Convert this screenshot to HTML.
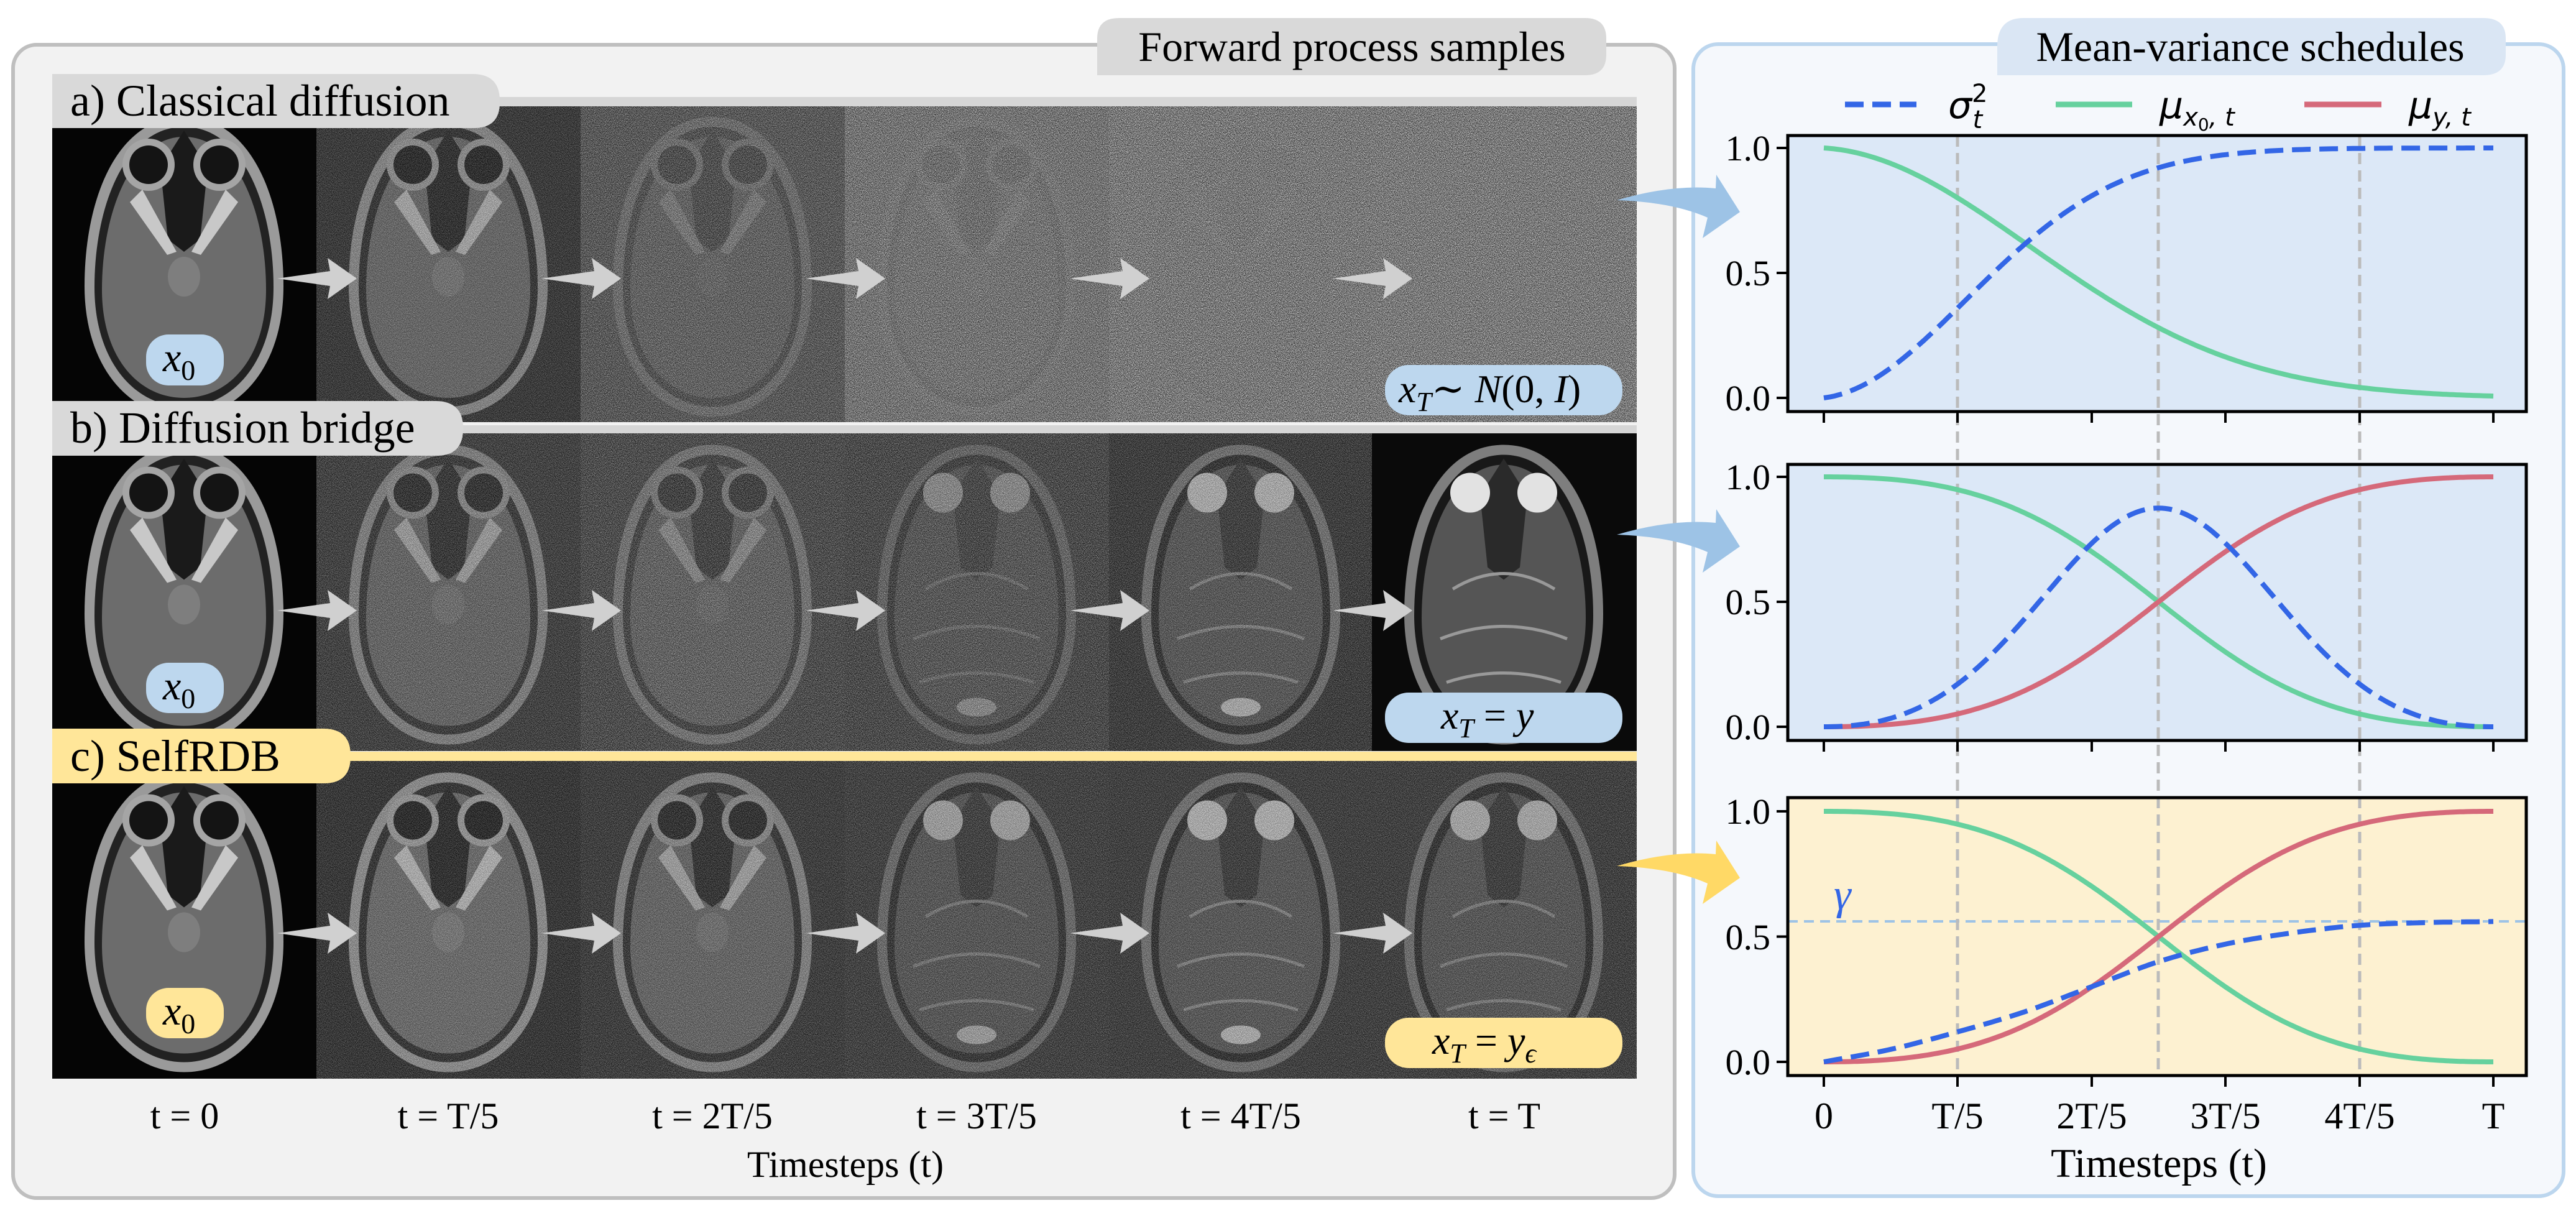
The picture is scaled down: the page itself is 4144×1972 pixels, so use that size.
<!DOCTYPE html>
<html><head><meta charset="utf-8">
<style>
html,body{margin:0;padding:0;background:#fff;}
svg{display:block;}
.mt{font-family:"DejaVu Sans","Liberation Sans",sans-serif;font-style:italic;}
</style></head>
<body>
<svg id="s" width="4144" height="1972" viewBox="0 0 4144 1972" xmlns="http://www.w3.org/2000/svg">
<defs>
  <filter id="nz2" x="0" y="0" width="100%" height="100%" color-interpolation-filters="sRGB">
    <feTurbulence type="fractalNoise" baseFrequency="0.9" numOctaves="2" seed="7" result="t"/>
    <feColorMatrix in="t" type="matrix" values="1 0 0 0 0  1 0 0 0 0  1 0 0 0 0  0 0 0 0 1" result="g"/>
    <feComponentTransfer in="g">
      <feFuncR type="linear" slope="4" intercept="-1.5"/>
      <feFuncG type="linear" slope="4" intercept="-1.5"/>
      <feFuncB type="linear" slope="4" intercept="-1.5"/>
    </feComponentTransfer>
  </filter>
  <symbol id="t1" viewBox="0 0 425 510">
    <path d="M212 18 C320 18 372 150 372 290 C372 420 300 500 212 500 C124 500 52 420 52 290 C52 150 104 18 212 18 Z" fill="#9a9a9a"/>
    <path d="M212 34 C306 34 356 160 356 292 C356 410 292 484 212 484 C132 484 68 410 68 292 C68 160 118 34 212 34 Z" fill="#222"/>
    <path d="M212 50 C296 50 344 170 344 296 C344 404 286 470 212 470 C138 470 80 404 80 296 C80 170 128 50 212 50 Z" fill="#6c6c6c"/>
    <path d="M212 40 L250 100 L238 215 L212 235 L186 215 L174 100 Z" fill="#1a1a1a"/>
    <circle cx="155" cy="95" r="42" fill="#a5a5a5"/>
    <circle cx="155" cy="95" r="31" fill="#141414"/>
    <circle cx="269" cy="95" r="42" fill="#a5a5a5"/>
    <circle cx="269" cy="95" r="31" fill="#141414"/>
    <path d="M145 135 L200 235 L185 240 L125 155 Z M279 135 L224 235 L239 240 L299 155 Z" fill="#c8c8c8"/>
    <ellipse cx="212" cy="275" rx="26" ry="32" fill="#7e7e7e"/>
  </symbol>
  <symbol id="t2" viewBox="0 0 425 510">
    <path d="M212 18 C320 18 372 150 372 290 C372 420 300 500 212 500 C124 500 52 420 52 290 C52 150 104 18 212 18 Z" fill="#7e7e7e"/>
    <path d="M212 34 C306 34 356 160 356 292 C356 410 292 484 212 484 C132 484 68 410 68 292 C68 160 118 34 212 34 Z" fill="#181818"/>
    <path d="M212 50 C296 50 344 170 344 296 C344 404 286 470 212 470 C138 470 80 404 80 296 C80 170 128 50 212 50 Z" fill="#555"/>
    <path d="M212 40 L250 100 L238 215 L212 235 L186 215 L174 100 Z" fill="#2a2a2a"/>
    <circle cx="158" cy="95" r="32" fill="#e2e2e2"/>
    <circle cx="266" cy="95" r="32" fill="#e2e2e2"/>
    <ellipse cx="212" cy="440" rx="32" ry="15" fill="#ddd"/>
    <path d="M130 250 Q212 200 294 250 M110 330 Q212 290 314 330 M120 400 Q212 370 304 400" stroke="#999" stroke-width="5" fill="none"/>
  </symbol>
</defs>

<rect x="21" y="72" width="2673" height="1855" rx="38" fill="#f2f2f2" stroke="#bfbfbf" stroke-width="6"/>
<path d="M1765 121 L2550 121 Q2584 121 2584 88 L2584 62 Q2584 29 2550 29 L1800 29 Q1765 29 1765 62 Z" fill="#d9d9d9"/>
<text x="2175" y="98" font-family="Liberation Serif, DejaVu Serif, serif" font-size="68" text-anchor="middle" fill="#000">Forward process samples</text>

<g id="imgs"></g>

<rect x="760" y="156" width="1873" height="15" fill="#d6d6d6"/>
<path d="M84 119 L760 119 Q804 119 804 162 L804 165 Q804 206 762 206 L84 206 Z" fill="#d9d9d9"/>
<text x="113" y="186" font-family="Liberation Serif, DejaVu Serif, serif" font-size="72">a) Classical diffusion</text>
<rect x="700" y="684" width="1933" height="13" fill="#d6d6d6"/>
<path d="M84 645 L700 645 Q745 645 745 688 L745 690 Q745 733 702 733 L84 733 Z" fill="#d9d9d9"/>
<text x="113" y="712" font-family="Liberation Serif, DejaVu Serif, serif" font-size="72">b) Diffusion bridge</text>
<rect x="520" y="1209" width="2113" height="15" fill="#ffe699"/>
<path d="M84 1172 L520 1172 Q564 1172 564 1215 L564 1217 Q564 1260 521 1260 L84 1260 Z" fill="#ffe699"/>
<text x="113" y="1240" font-family="Liberation Serif, DejaVu Serif, serif" font-size="72">c) SelfRDB</text>

<g font-family="Liberation Serif, DejaVu Serif, serif">
<rect x="235" y="538" width="125" height="82" rx="36" fill="#bdd7ee"/>
<text x="262" y="597" font-style="italic" font-size="66">x<tspan font-style="normal" font-size="46" dy="14">0</tspan></text>
<rect x="235" y="1066" width="125" height="81" rx="36" fill="#bdd7ee"/>
<text x="262" y="1125" font-style="italic" font-size="66">x<tspan font-style="normal" font-size="46" dy="14">0</tspan></text>
<rect x="235" y="1589" width="125" height="81" rx="36" fill="#ffe699"/>
<text x="262" y="1648" font-style="italic" font-size="66">x<tspan font-style="normal" font-size="46" dy="14">0</tspan></text>

<rect x="2228" y="587" width="382" height="81" rx="38" fill="#bdd7ee"/>
<text x="2250" y="647" font-style="italic" font-size="64">x<tspan font-size="44" dy="14">T</tspan><tspan font-style="normal" dy="-14">∼ </tspan>N<tspan font-style="normal">(0, </tspan>I<tspan font-style="normal">)</tspan></text>
<rect x="2228" y="1114" width="382" height="81" rx="38" fill="#bdd7ee"/>
<text x="2318" y="1172" font-style="italic" font-size="64">x<tspan font-size="44" dy="14">T</tspan><tspan font-style="normal" dy="-14"> = </tspan>y</text>
<rect x="2228" y="1637" width="382" height="81" rx="38" fill="#ffe699"/>
<text x="2304" y="1695" font-style="italic" font-size="64">x<tspan font-size="44" dy="14">T</tspan><tspan font-style="normal" dy="-14"> = </tspan>y<tspan font-size="44" dy="14">ϵ</tspan></text>
</g>

<g font-family="Liberation Serif, DejaVu Serif, serif" font-size="60" text-anchor="middle">
<text x="297" y="1815">t = 0</text>
<text x="721" y="1815">t = T/5</text>
<text x="1146" y="1815">t = 2T/5</text>
<text x="1571" y="1815">t = 3T/5</text>
<text x="1996" y="1815">t = 4T/5</text>
<text x="2420" y="1815">t = T</text>
<text x="1360" y="1893">Timesteps (t)</text>
</g>

<rect x="2724" y="71" width="1400" height="1853" rx="40" fill="#f5f8fc" stroke="#bcd6ee" stroke-width="6"/>
<path d="M3213 121 L3995 121 Q4031 121 4031 88 L4031 62 Q4031 29 3995 29 L3255 29 Q3213 29 3213 75 Z" fill="#dae6f4"/>
<text x="3620" y="98" font-family="Liberation Serif, DejaVu Serif, serif" font-size="68" text-anchor="middle">Mean-variance schedules</text>

<line x1="2968" y1="168" x2="3083" y2="168" stroke="#3366e6" stroke-width="9" stroke-dasharray="30 14"/>
<text x="3134" y="190" class="mt" font-size="60">σ<tspan font-size="40" dy="-26" font-style="normal">2</tspan><tspan font-size="40" dx="-24" dy="42">t</tspan></text>
<line x1="3307" y1="168" x2="3430" y2="168" stroke="#66d19e" stroke-width="9"/>
<text x="3474" y="190" class="mt" font-size="60">μ<tspan font-size="40" dy="12">x<tspan font-size="28" font-style="normal" dy="8">0</tspan><tspan dy="-8">, t</tspan></tspan></text>
<line x1="3707" y1="168" x2="3831" y2="168" stroke="#d5697a" stroke-width="9"/>
<text x="3875" y="190" class="mt" font-size="60">μ<tspan font-size="40" dy="12">y, t</tspan></text>

<rect x="2876" y="218" width="1188" height="444" fill="#dce8f7"/>
<rect x="2876" y="747" width="1188" height="444" fill="#dce8f7"/>
<rect x="2876" y="1283" width="1188" height="447" fill="#fdf1d1"/>

<line x1="2876" y1="1482" x2="4064" y2="1482" stroke="#9dc3e6" stroke-width="4" stroke-dasharray="16 10"/>
<text x="2950" y="1462" font-family="Liberation Serif, DejaVu Serif, serif" font-style="italic" font-size="70" fill="#3366e6">γ</text>

<g id="vl"></g>
<g id="curves"></g>

<rect x="2876" y="218" width="1188" height="444" fill="none" stroke="#000" stroke-width="5"/>
<rect x="2876" y="747" width="1188" height="444" fill="none" stroke="#000" stroke-width="5"/>
<rect x="2876" y="1283" width="1188" height="447" fill="none" stroke="#000" stroke-width="5"/>
<g id="ticks" stroke="#000" stroke-width="4"></g>

<g font-family="Liberation Serif, DejaVu Serif, serif" font-size="58" text-anchor="end">
<text x="2848" y="258">1.0</text><text x="2848" y="459">0.5</text><text x="2848" y="660">0.0</text>
<text x="2848" y="787">1.0</text><text x="2848" y="988">0.5</text><text x="2848" y="1189">0.0</text>
<text x="2848" y="1325">1.0</text><text x="2848" y="1527">0.5</text><text x="2848" y="1728">0.0</text>
</g>
<g font-family="Liberation Serif, DejaVu Serif, serif" font-size="60" text-anchor="middle">
<text x="2934" y="1815">0</text>
<text x="3149" y="1815">T/5</text>
<text x="3365" y="1815">2T/5</text>
<text x="3580" y="1815">3T/5</text>
<text x="3796" y="1815">4T/5</text>
<text x="4011" y="1815">T</text>
<text x="3473" y="1893" font-size="66">Timesteps (t)</text>
</g>

<g id="carrows"></g>
</svg>
<script>
(function(){
var NS="http://www.w3.org/2000/svg";
function el(tag,attrs,parent){var e=document.createElementNS(NS,tag);for(var k in attrs)e.setAttribute(k,attrs[k]);parent.appendChild(e);return e;}
var imgs=document.getElementById('imgs');
var xs=[84,509,934,1359,1784,2207,2633];
var rows=[[171,679],[697,1208],[1224,1735]];
var P=[
 [["#050505","t1",1,0],["#262626","t1",0.8,0.25],["#404040","t1",0.35,0.4],["#666666","t1",0.12,0.5],["#707070","t1",0.03,0.55],["#727272","t1",0,0.55]],
 [["#050505","t1",1,0],["#2a2a2a","t1",0.72,0.3],["#303030","t1",0.55,0.38],["#2c2c2c","t2",0.5,0.38],["#242424","t2",0.75,0.3],["#0a0a0a","t2",1,0]],
 [["#050505","t1",1,0],["#222","t1",0.88,0.25],["#282828","t1",0.75,0.28],["#2a2a2a","t2",0.65,0.3],["#2a2a2a","t2",0.75,0.28],["#2a2a2a","t2",0.7,0.28]]
];
for(var r=0;r<3;r++){for(var c=0;c<6;c++){
 var p=P[r][c],x=xs[c],w=xs[c+1]-x,y=rows[r][0],h=rows[r][1]-y;
 el('rect',{x:x,y:y,width:w,height:h,fill:p[0]},imgs);
 if(p[2]>0)el('use',{href:'#'+p[1],x:x,y:y+(h-510)/2,width:425,height:510,opacity:p[2]},imgs);
 if(p[3]>0)el('rect',{x:x,y:y,width:w,height:h,fill:'#fff',filter:'url(#nz2)',opacity:p[3]},imgs);
}}
var ay=[448,982,1501];
for(var r=0;r<3;r++){for(var c=1;c<6;c++){
 var b=xs[c],y=ay[r];
 el('polygon',{points:[(b-63)+","+y,(b+22)+","+(y-12),(b+18)+","+(y-33),(b+65)+","+y,(b+18)+","+(y+33),(b+22)+","+(y+12)].join(" "),fill:"#d0d0d0"},imgs);
}}
var vl=document.getElementById('vl');
[3149,3472,3796].forEach(function(x){el('line',{x1:x,y1:218,x2:x,y2:1730,stroke:"#bbb","stroke-width":5,"stroke-dasharray":"18 10"},vl);});
var tk=document.getElementById('ticks');
var xt=[2934,3149,3365,3580,3796,4011];
[[662,640,238],[1191,1169,767],[1730,1708,1305]].forEach(function(a){
 xt.forEach(function(x){el('line',{x1:x,y1:a[0],x2:x,y2:a[0]+18},tk);});
 [a[1],(a[1]+a[2])/2,a[2]].forEach(function(y){el('line',{x1:2858,y1:y,x2:2876,y2:y},tk);});
});
var cg=document.getElementById('curves');
function X(t){return 2934+t*1077;}
function path(f,y0,y1){var d="";for(var i=0;i<=200;i++){var t=i/200;var v=f(t);d+=(i?"L":"M")+X(t).toFixed(1)+" "+(y0-v*(y0-y1)).toFixed(1);}return d;}
var m1=function(t){return Math.exp(-0.165*t-4.75*t*t);};
var s1=function(t){var m=m1(t);return 1-m*m;};
var my=function(t){if(t<=0)return 0;if(t>=1)return 1;var a=Math.pow(t,2.1),b=Math.pow(1-t,2.1);return a/(a+b);};
var mx=function(t){return 1-my(t);};
var s2=function(t){return 3.5*mx(t)*my(t);};
var pts=[[0,0],[0.1,0.05],[0.2,0.12],[0.3,0.2],[0.4,0.3],[0.5,0.4],[0.6,0.47],[0.7,0.515],[0.8,0.545],[0.9,0.556],[1,0.56]];
function s3(t){var i=Math.min(Math.floor(t*10),9);var p0=pts[Math.max(i-1,0)],p1=pts[i],p2=pts[i+1],p3=pts[Math.min(i+2,10)];var u=(t-p1[0])/0.1;var a=p1[1],b=p2[1],m0=(p2[1]-p0[1])/(p2[0]-p0[0])*0.1,mm=(p3[1]-p1[1])/(p3[0]-p1[0])*0.1;var u2=u*u,u3=u2*u;return (2*u3-3*u2+1)*a+(u3-2*u2+u)*m0+(-2*u3+3*u2)*b+(u3-u2)*mm;}
var G="#66d19e",R="#d5697a",B="#3366e6";
function line(d,col,dash){var a={d:d,fill:"none",stroke:col,"stroke-width":8,"stroke-linejoin":"round"};if(dash)a["stroke-dasharray"]="30 14";el('path',a,cg);}
line(path(m1,640,238),G);line(path(s1,640,238),B,1);
line(path(mx,1169,767),G);line(path(my,1169,767),R);line(path(s2,1169,767),B,1);
line(path(mx,1708,1305),G);line(path(my,1708,1305),R);line(path(s3,1708,1305),B,1);
var ca=document.getElementById('carrows');
[[0,"#9dc3e6"],[538,"#9dc3e6"],[1071,"#ffd966"]].forEach(function(a){var o=a[0];
 el('path',{d:"M2601 "+(322+o)+" Q2690 "+(296+o)+" 2760 "+(303+o)+" L2761 "+(281+o)+" L2799 "+(341+o)+" L2739 "+(383+o)+" L2747 "+(350+o)+" Q2690 "+(325+o)+" 2601 "+(322+o)+" Z",fill:a[1]},ca);
});
})();
</script>
</body></html>
